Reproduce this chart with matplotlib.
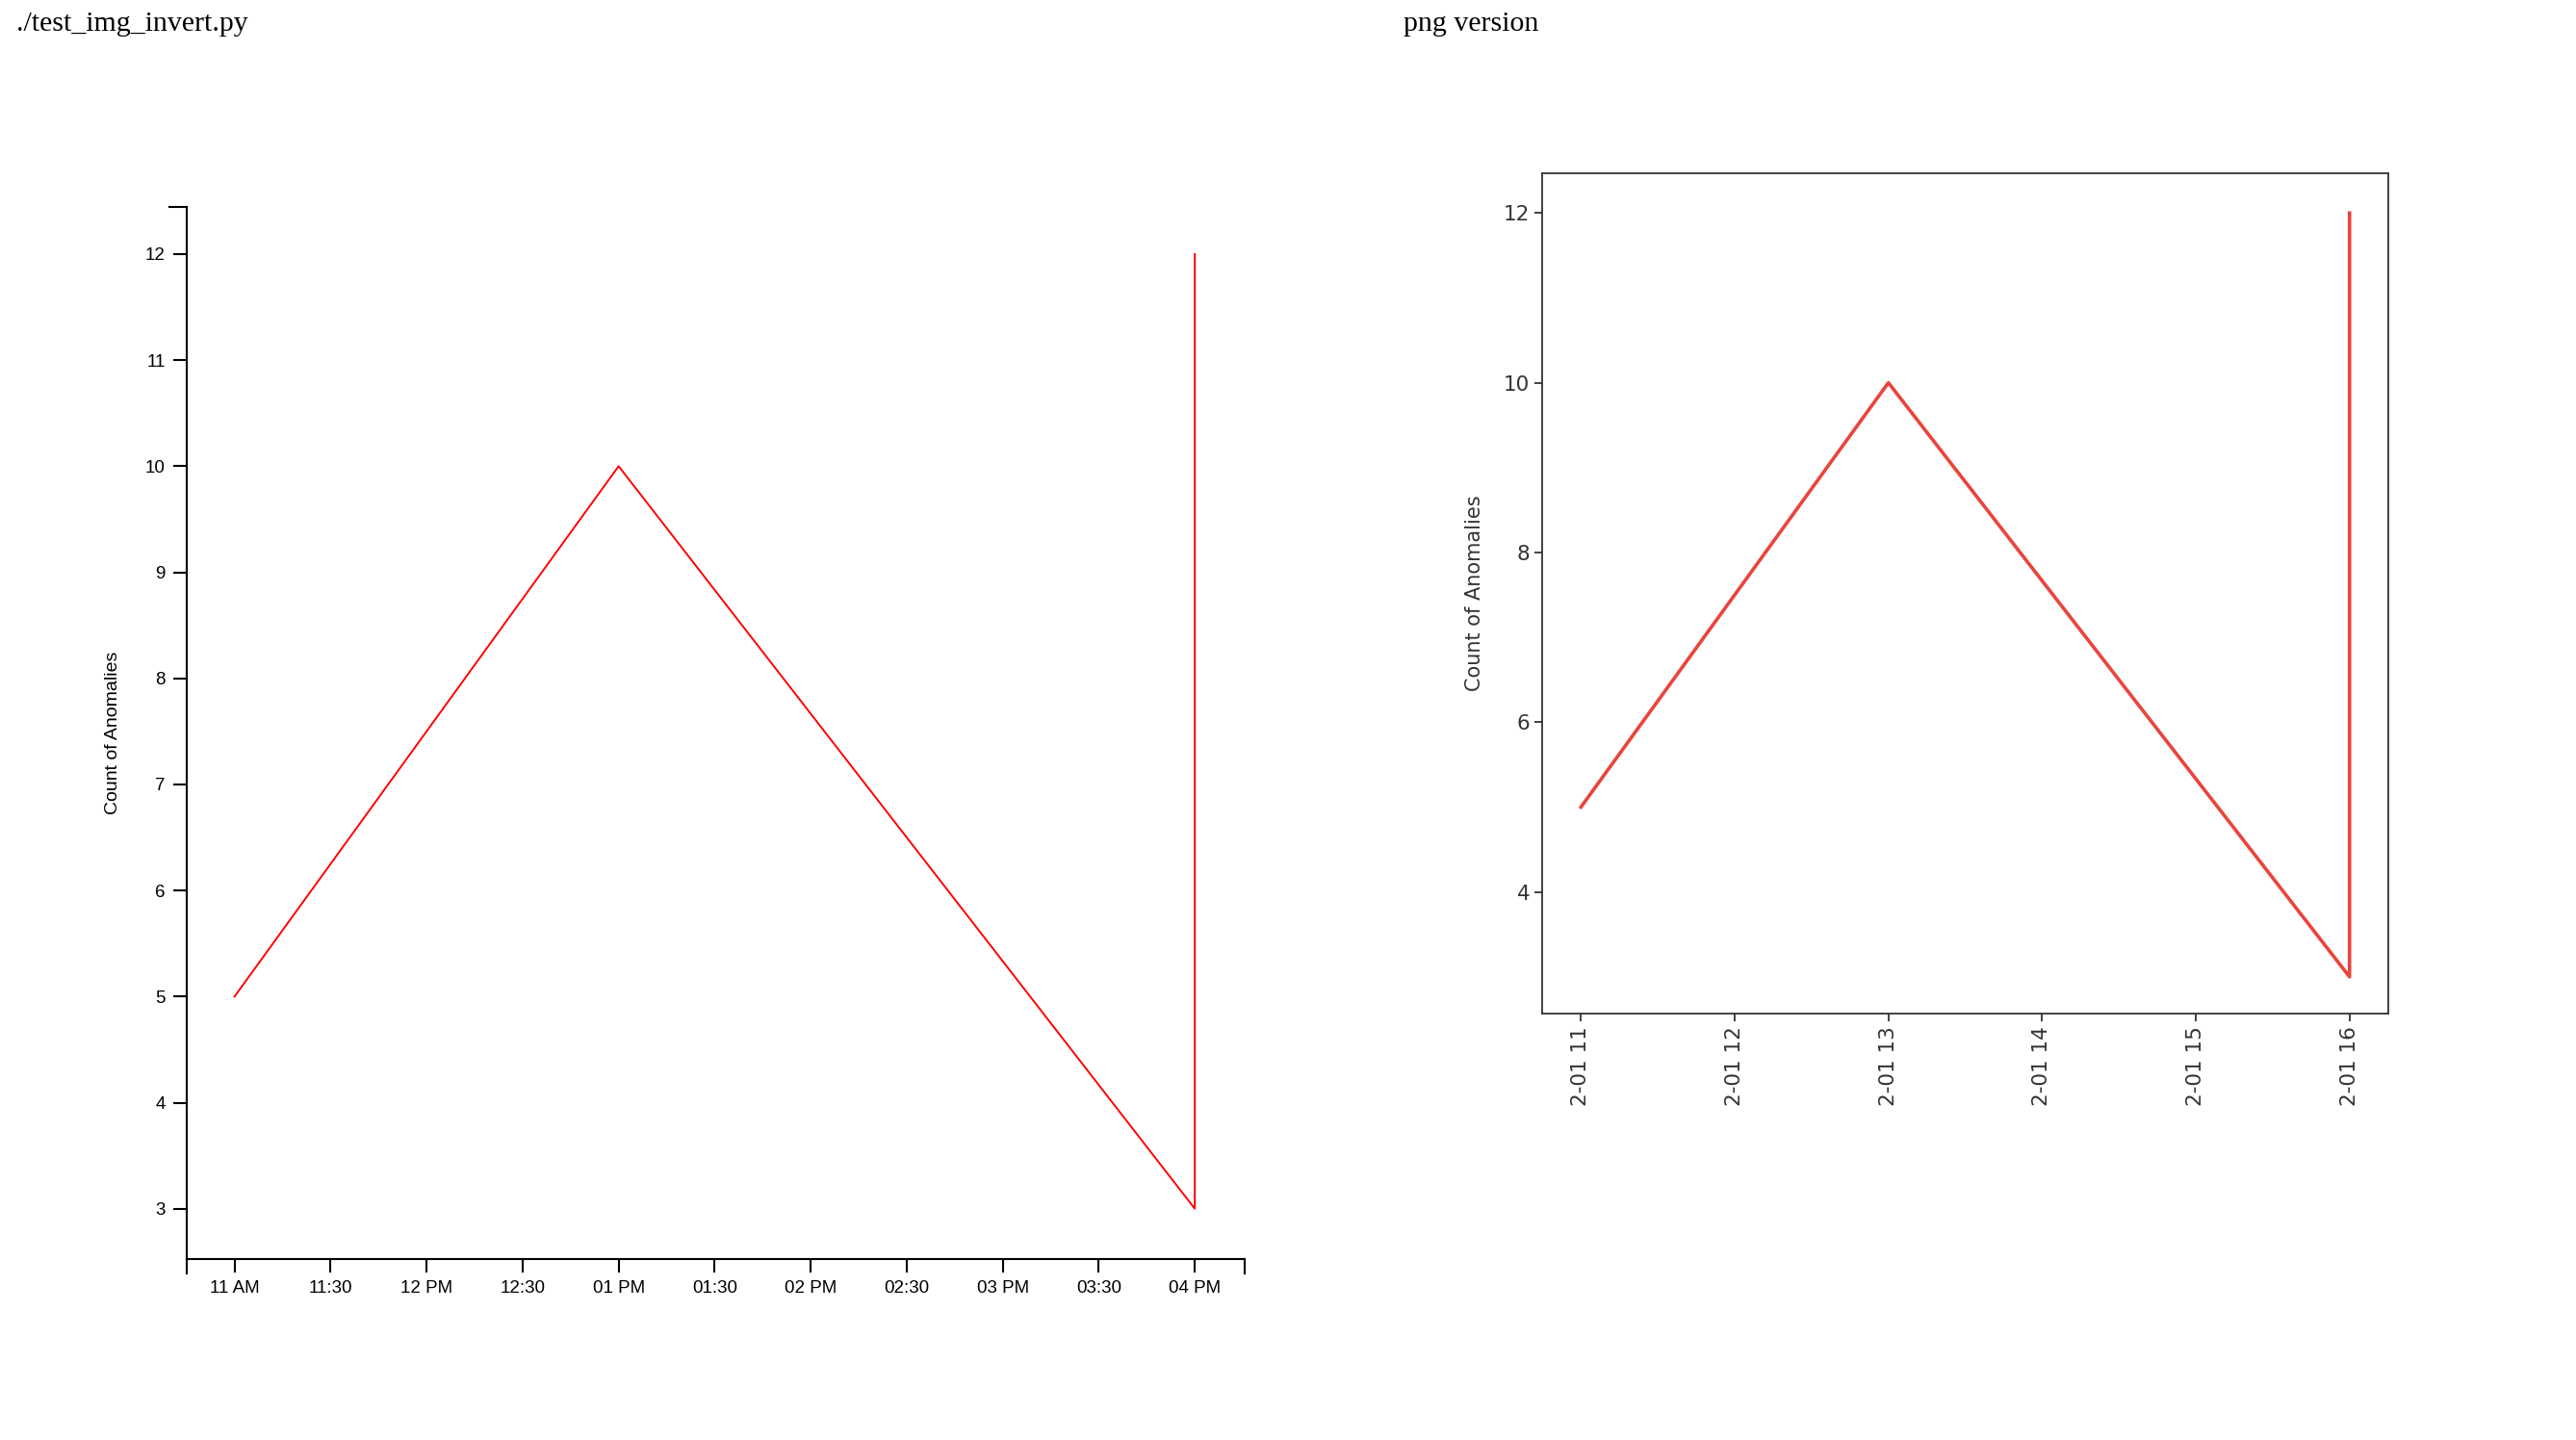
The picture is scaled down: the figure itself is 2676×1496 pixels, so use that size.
import matplotlib
matplotlib.use("Agg")
import matplotlib.pyplot as plt

# data: hour of day and anomaly counts
hours = [11, 13, 16, 16]
counts = [5, 10, 3, 12]
left_xticks = [11 + 0.5 * i for i in range(11)]
left_xlabels = ['11 AM', '11:30', '12 PM', '12:30', '01 PM', '01:30',
                '02 PM', '02:30', '03 PM', '03:30', '04 PM']
right_xticks = [11, 12, 13, 14, 15, 16]
right_xlabels = ['2-01 11', '2-01 12', '2-01 13', '2-01 14', '2-01 15', '2-01 16']

fig = plt.figure(figsize=(26.76, 14.96), dpi=100)
fig.text(0.0065, 0.983, './test_img_invert.py', family='Liberation Serif', fontsize=21.5, va='center')
fig.text(0.545, 0.983, 'png version', family='Liberation Serif', fontsize=21.5, va='center')

# left: d3 style chart
ax = fig.add_axes([0.0724, 0.126, 0.4108, 0.730])
ax.plot(hours, counts, color='#ff0000', lw=1.4)
ax.set_xlim(10.75, 16.26)
ax.set_ylim(2.53, 12.44)
for s in ['top', 'right']:
    ax.spines[s].set_visible(False)
ax.spines['left'].set_linewidth(1.5)
ax.spines['bottom'].set_linewidth(1.5)
ax.set_xticks(left_xticks)
ax.set_xticklabels(left_xlabels)
ax.set_yticks(range(3, 13))
ax.tick_params(labelsize=13.5, length=10, width=1.5, pad=6)
for lab in ax.get_xticklabels() + ax.get_yticklabels():
    lab.set_family('Liberation Sans')
ax.set_ylabel('Count of Anomalies', family='Liberation Sans', fontsize=14, labelpad=18)
# outer end ticks of the d3 axes
ax.plot([0, -0.016], [1, 1], transform=ax.transAxes, color='black', lw=1.5, clip_on=False)
ax.plot([0, 0], [0, -0.014], transform=ax.transAxes, color='black', lw=1.5, clip_on=False)
ax.plot([1, 1], [0, -0.014], transform=ax.transAxes, color='black', lw=1.5, clip_on=False)

# right: matplotlib png version
ax2 = fig.add_axes([0.5988, 0.2963, 0.3282, 0.5835])
ax2.plot(hours, counts, color='#e8453c', lw=2.6)
ax2.set_xlim(10.75, 16.25)
ax2.set_ylim(2.57, 12.47)
ax2.set_xticks(right_xticks)
ax2.set_xticklabels(right_xlabels, rotation=90)
ax2.set_yticks([4, 6, 8, 10, 12])
ax2.tick_params(labelsize=15.5, length=6, width=1.3, colors='#333333', labelcolor='#333333')
for s in ax2.spines.values():
    s.set_linewidth(1.3)
    s.set_color('#333333')
ax2.set_ylabel('Count of Anomalies', fontsize=15, color='#333333', labelpad=14)

fig.savefig('out.png', dpi=100)
